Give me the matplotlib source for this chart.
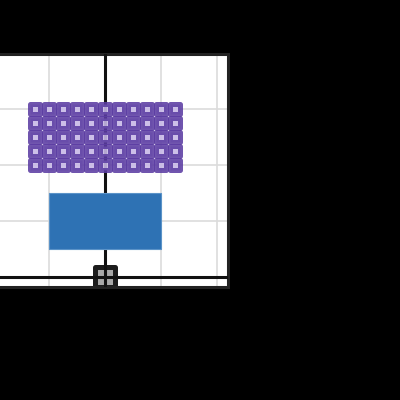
import numpy as np
import matplotlib
matplotlib.use("Agg")
import matplotlib.pyplot as plt
from matplotlib.markers import MarkerStyle

# Data
grid_x = [-1.25, -1.0, -0.75, -0.5, -0.25, 0.0, 0.25, 0.5, 0.75, 1.0, 1.25]
grid_y = [2.0, 2.25, 2.5, 2.75, 3.0]
bar_x = [0.0]
bar_bottom = [0.5]
bar_height = [1.0]
bar_width = 2.0
point_x = [0.0]
point_y = [0.0]
x_ticks = [-2, -1, 0, 1, 2]
y_ticks = [0, 1, 2, 3]

fig = plt.figure(figsize=(4, 4), dpi=100, facecolor="black")
ppu = 56.0
xlim = (-2.2, 2.2)
ylim = (-0.18, 3.98)
right_px, top_px = 228.0, 54.0
w_px = (xlim[1] - xlim[0]) * ppu
h_px = (ylim[1] - ylim[0]) * ppu
left_px = right_px - w_px
bottom_px = top_px + h_px
ax = fig.add_axes([left_px / 400, 1 - bottom_px / 400, w_px / 400, h_px / 400])
ax.set_facecolor("white")
ax.set_xlim(*xlim)
ax.set_ylim(*ylim)
ax.set_xticks(x_ticks)
ax.set_yticks(y_ticks)
ax.tick_params(length=0, labelbottom=False, labelleft=False)
ax.grid(True, color="#dcdcdc", linewidth=1.2, zorder=0)
ax.set_axisbelow(True)
for s in ax.spines.values():
    s.set_color("#222222")
    s.set_linewidth(2.2)

# bottom square marker
ax.plot(point_x, point_y, linestyle="none",
        marker=MarkerStyle("s", joinstyle="round"), markersize=15,
        markerfacecolor="#a8a8a8", markeredgecolor="#1c1c1c",
        markeredgewidth=3.6, zorder=2, clip_on=True)

# thick axis lines
ax.axvline(0, color="#111111", linewidth=2.2, zorder=3)
ax.axhline(0, color="#111111", linewidth=2.2, zorder=3)

# blue bar
ax.bar(bar_x, bar_height, width=bar_width, bottom=bar_bottom,
       color="#2e72b4", edgecolor="#5b93c8", linewidth=0.8, zorder=4)

# purple grid of markers
gx, gy = np.meshgrid(grid_x, grid_y)
ax.scatter(gx.ravel(), gy.ravel(),
           marker=MarkerStyle("s", joinstyle="round"), s=7.2 ** 2,
           facecolors=(0.78, 0.72, 0.90, 0.9), edgecolors=(0.36, 0.24, 0.64, 0.88),
           linewidths=3.6, zorder=5)

fig.savefig("out.png", dpi=100, facecolor="black")
